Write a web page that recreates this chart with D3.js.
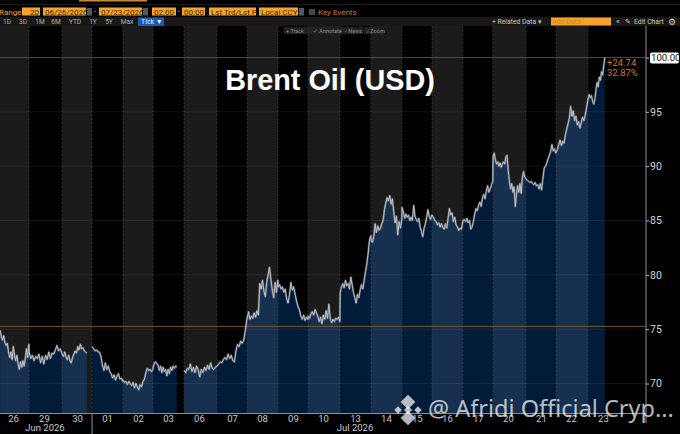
<!DOCTYPE html>
<html><head><meta charset="utf-8">
<script src="https://cdn.jsdelivr.net/npm/d3@7"></script>
<style>html,body{margin:0;padding:0;background:#000;overflow:hidden}svg{display:block}</style>
</head><body><svg id="c" width="680" height="434"></svg>
<script>
const title = "Brent Oil (USD)";
const dayLabels = ["26","29","30","01","02","03","06","07","08","09","10","13","14","15","16","17","20","21","22","23"];
const sessionHours = [22.3,25.4,23.1,23.8,23.1,23.8,25.4,23.1,23.8,23.1,24.6,23.8,23.8,23.1,23.8,23.1,25.4,23.1,24.6,13.1];
const tradedHours  = [22.3,25.4,19.2,23.8,23.1,18.4,25.4,23.1,23.8,23.1,24.6,23.8,23.8,23.1,23.8,23.1,25.4,23.1,24.6,13.1];
const d26 = [74.9,74.3,74.0,74.4,73.8,73.5,73.7,72.9,72.4,72.9,72.2,73.4,72.6,72.1,72.6,71.8,71.3,72.0,71.5,72.1,71.6,72.3,73.2,72.4,73.6];
const d29 = [72.9,72.3,72.6,72.1,72.5,72.3,72.7,71.9,72.5,71.8,72.6,72.2,72.9,72.3,72.8,72.7,73.1,73.5,73.0,73.2,72.8];
const d30 = [72.7,72.5,72.9,72.4,72.2,72.6,72.1,71.9,72.4,72.7,73.0,72.8,73.4,73.1,73.6,73.2,73.3,73.0,72.9,72.8];
const d01 = [73.4,73.2,73.0,73.1,72.9,72.9,72.5,71.7,71.2,71.9,71.3,71.6,71.1,70.9,70.5,70.8,70.3,70.7,70.9,70.4,70.5,70.2];
const d02 = [70.3,70.1,70.2,69.9,70.2,70.0,69.8,70.1,69.6,70.0,69.7,69.4,69.9,69.7,70.2,70.4,71.0,71.4,71.2,71.3,71.1,71.3];
const d03 = [71.5,71.9,72.0,71.8,71.7,71.2,71.6,71.0,71.5,71.1,71.3,70.7,71.3,70.9,71.5,71.2,71.6,71.4,71.6,71.5];
const d06 = [71.2,71.0,71.4,71.3,71.8,71.1,71.5,71.0,71.6,71.3,70.6,71.3,71.0,71.5,71.2,71.7,71.3,71.9,71.4,71.3,71.5,71.6];
const d07 = [71.6,71.8,72.0,71.9,72.2,72.4,72.2,72.7,72.3,72.6,72.1,72.0,73.0,73.6,73.4,73.9,73.7,74.0,74.9,76.0];
const d08 = [76.0,76.6,75.9,76.2,76.0,76.5,76.1,76.7,76.3,79.2,78.7,79.5,78.5,78.0,79.3,80.0,80.7,79.6,78.6,77.9,79.3,78.4,79.5];
const d09 = [78.9,79.1,78.7,78.9,78.4,78.7,77.8,77.4,78.2,79.3,78.6,78.9,78.2,77.6,77.1,76.8,76.2,75.9,76.3,75.8,76.1,75.9];
const d10 = [76.2,76.0,76.4,76.6,76.3,76.8,76.5,76.2,75.7,76.1,75.5,76.3,75.9,76.7,76.0,77.3,76.0,75.6,75.9,75.7,76.0,75.9,76.1,75.7];
const d13 = [78.3,78.9,79.2,78.8,79.5,79.0,79.2,78.7,79.8,79.1,78.4,77.9,77.4,78.2,77.9,78.6,79.1,78.7,79.5,80.3,81.0,82.0,83.2,83.6];
const d14 = [83.2,83.0,83.5,84.7,83.9,84.5,84.1,84.3,84.7,85.0,86.0,86.6,87.1,86.8,87.3,86.5,87.0,85.8,84.8,85.4,83.7,84.9,84.3,85.1];
const d15 = [86.2,85.8,85.2,85.6,85.3,85.5,85.0,85.3,85.0,86.4,85.4,85.1,84.9,85.2,84.4,84.0,83.5,84.3,84.7,85.3,86.0,85.4,85.1,85.5];
const d16 = [85.5,85.3,85.0,84.9,84.6,84.8,84.4,84.7,84.4,84.2,84.7,84.3,85.2,86.1,85.5,85.7,84.9,85.3,84.6,84.4,84.1,84.3,84.2,84.9];
const d17 = [85.0,85.1,84.9,85.2,84.8,85.0,84.2,84.4,84.9,85.6,86.1,85.9,86.4,86.7,86.3,87.1,87.4,87.0,87.7,88.2,87.6,87.9,88.3,88.6];
const d20 = [90.9,91.2,90.6,90.2,90.4,90.0,90.3,89.9,90.2,90.4,90.2,90.9,91.0,89.6,88.6,87.9,88.4,87.6,88.1,86.3,87.4,88.2,87.6,88.4,87.5,88.9,89.5,89.0,88.9];
const d21 = [88.8,88.7,88.6,88.5,88.6,88.4,88.3,88.5,88.2,88.3,87.9,88.4,87.8,88.9,89.8,90.0,90.3,90.7,91.0,91.4,92.0,91.4,91.6,91.2];
const d22 = [91.3,91.5,92.0,92.4,91.9,92.3,92.1,92.9,93.4,93.9,94.4,95.5,94.6,95.1,94.2,94.6,93.8,94.1,93.5,94.0,94.5,94.2,94.7,95.4,96.0];
const d23 = [96.2,96.6,96.3,96.5,96.0,95.7,96.1,97.0,97.7,97.3,98.2,97.9,98.7,98.4,99.3,100.0];
const sessions = [d26,d29,d30,d01,d02,d03,d06,d07,d08,d09,d10,d13,d14,d15,d16,d17,d20,d21,d22,d23];
const yTicks = [100,95,90,85,80,75,70];
const lastValue = 100.00, changeAbs = "+24.74", changePct = "32.87%", refValue = 75.26;
const periods = ["1D","3D","1M","6M","YTD","1Y","5Y","Max"];

const svg = d3.select("#c");
const F = "Roboto, 'Liberation Sans', sans-serif";
const plotTop = 26, plotBottom = 413, axisX = 646;
svg.append("rect").attr("width",680).attr("height",434).attr("fill","#000");

// time layout
let acc = 0;
const starts = sessionHours.map(h => { const s = acc; acc += h; return s; });
const total = acc;
const x = d3.scaleLinear().domain([0,total]).range([0,605]);
const y = d3.scaleLinear().domain([70,100]).range([383.5,57.5]);
const pts = [], groups = [[]];
sessions.forEach((vals,d) => {
  const t = d3.scaleLinear().domain([0,vals.length-1]).range([starts[d]+0.1,starts[d]+tradedHours[d]-0.1]);
  vals.forEach((v,i)=>{ const p={h:t(i),v}; groups[groups.length-1].push(p); pts.push(p); });
  if (tradedHours[d] < sessionHours[d]-1) groups.push([]);
});

// bands
const bandEnd = d => d===sessions.length-1 ? x(total) : x(starts[d+1]);
svg.append("g").selectAll("rect").data(sessions).join("rect")
  .attr("x",(d,i)=>x(starts[i])).attr("width",(d,i)=>bandEnd(i)-x(starts[i]))
  .attr("y",plotTop).attr("height",plotBottom-plotTop)
  .attr("fill",(d,i)=>i%2===0?"#1b1b1b":"#000");

// area clipped bands
const area = d3.area().x(d=>x(d.h)).y0(plotBottom).y1(d=>y(d.v));
const line = d3.line().x(d=>x(d.h)).y(d=>y(d.v));
const defs = svg.append("defs");
defs.append("clipPath").attr("id","ac").selectAll("path").data(groups).join("path").attr("d",area);
svg.append("g").attr("clip-path","url(#ac)").selectAll("rect").data(sessions).join("rect")
  .attr("x",(d,i)=>x(starts[i])).attr("width",(d,i)=>bandEnd(i)-x(starts[i]))
  .attr("y",plotTop).attr("height",plotBottom-plotTop)
  .attr("fill",(d,i)=>i%2===0?"#17304f":"#021b38");

// dashed session separators
svg.append("g").selectAll("line").data(starts.slice(1)).join("line")
  .attr("x1",d=>x(d)).attr("x2",d=>x(d)).attr("y1",plotTop).attr("y2",plotBottom)
  .attr("stroke","#3a3f46").attr("stroke-width",1).attr("stroke-dasharray","2,2").attr("opacity",.7);

// grid
svg.append("g").selectAll("line").data(yTicks.slice(1)).join("line")
  .attr("x1",0).attr("x2",axisX).attr("y1",d=>y(d)).attr("y2",d=>y(d))
  .attr("stroke","#ffffff").attr("stroke-opacity",.07).attr("stroke-width",1);
svg.append("line").attr("x1",0).attr("x2",axisX).attr("y1",y(lastValue)).attr("y2",y(lastValue))
  .attr("stroke","#4d473c").attr("stroke-width",1);
svg.append("line").attr("x1",0).attr("x2",axisX).attr("y1",y(refValue)).attr("y2",y(refValue))
  .attr("stroke","#7d5524").attr("stroke-width",1);

// price line: soft halo plus core
svg.append("g").selectAll("path").data(groups).join("path")
  .attr("d",line).attr("fill","none").attr("stroke","#aeb6bf").attr("stroke-opacity",.4).attr("stroke-width",2.2).attr("stroke-linejoin","round");
svg.append("g").selectAll("path").data(groups).join("path")
  .attr("d",line).attr("fill","none").attr("stroke","#c8ccd0").attr("stroke-width",.9).attr("stroke-linejoin","round");

// right axis
const ax = d3.axisRight(y).tickValues(yTicks).tickSize(3).tickPadding(1)
  .tickFormat(d=>d===lastValue?d3.format(".2f")(d):d3.format("d")(d));
const ag = svg.append("g").attr("transform",`translate(${axisX},0)`).call(ax);
ag.select(".domain").remove();
ag.selectAll("line").attr("stroke","#bbb");
ag.selectAll("text").attr("fill","#d4d4d4").attr("font-family",F).attr("font-size",10.5);
ag.append("line").attr("x1",0).attr("x2",0).attr("y1",plotTop).attr("y2",423).attr("stroke","#8f8f8f");
const tg = ag.selectAll(".tick").filter(d=>d===lastValue);
tg.insert("rect","text").attr("x",4).attr("y",-5.5).attr("width",29).attr("height",11).attr("rx",2).attr("fill","#fff");
tg.select("text").attr("fill","#111").attr("x",5).attr("font-size",9.6);

// bottom axis
svg.append("line").attr("x1",0).attr("x2",axisX).attr("y1",plotBottom+.5).attr("y2",plotBottom+.5).attr("stroke","#8f8f8f");
svg.append("line").attr("x1",x(starts[3])).attr("x2",x(starts[3])).attr("y1",plotBottom).attr("y2",434).attr("stroke","#8f8f8f");
svg.append("g").selectAll("text").data(dayLabels).join("text")
  .attr("x",(d,i)=>x(i===0?starts[1]-11.9:starts[i]+11.9)).attr("y",422)
  .attr("text-anchor","middle").attr("fill","#c9c9c9").attr("font-family",F).attr("font-size",9.5).text(d=>d);
[["Jun 2026",45],["Jul 2026",355]].forEach(([t,p])=>svg.append("text").attr("x",p).attr("y",431)
  .attr("text-anchor","middle").attr("fill","#c9c9c9").attr("font-family",F).attr("font-size",9.5).text(t));

// change labels
[[changeAbs,66],[changePct,76]].forEach(([t,py])=>svg.append("text").attr("x",607).attr("y",py)
  .attr("fill","#c67a22").attr("font-family",F).attr("font-size",9.5).text(t));

// title
svg.append("text").attr("x",330).attr("y",90).attr("text-anchor","middle").attr("fill","#fff")
  .attr("font-family","'Liberation Sans', Arial, sans-serif").attr("font-weight",700).attr("font-size",28.8).text(title);

// header
const H = svg.append("g").attr("font-family",F);
H.append("rect").attr("width",680).attr("height",plotTop).attr("fill","#000");
H.append("rect").attr("x",0).attr("y",17).attr("width",680).attr("height",9).attr("fill","#191816");
H.append("rect").attr("x",79).attr("y",0).attr("width",68).attr("height",1.5).attr("fill","#c98a2e");
H.append("line").attr("x1",0).attr("x2",680).attr("y1",4.5).attr("y2",4.5).attr("stroke","#1c1c1c");
H.append("text").attr("x",-1).attr("y",14.5).attr("fill","#f5a623").attr("font-size",8).text("Range");
const fields=[[22,40,"20","end"],[43,86,"06/26/2026"],[99,142,"07/23/2026"],[152,176,"02:00"],[182,205,"00:00"],[209,256,"Lst Trd/Lst P"],[259,298,"Local CCY"]];
fields.forEach(f=>{
  H.append("rect").attr("x",f[0]).attr("y",7.5).attr("width",f[1]-f[0]).attr("height",8).attr("fill","#f7a32b");
  H.append("text").attr("x",f[3]?f[1]-1:f[0]+2).attr("y",14.5).attr("text-anchor",f[3]?"end":"start").attr("fill","#3a2a10").attr("font-size",8).text(f[2]);
});
[87,143,299].forEach(p=>H.append("rect").attr("x",p).attr("y",8).attr("width",5).attr("height",7.5).attr("fill","#55585c"));
[[93.5],[177.5]].forEach(p=>H.append("text").attr("x",p[0]).attr("y",14).attr("fill","#bbb").attr("font-size",8).text("-"));
H.append("rect").attr("x",309).attr("y",9).attr("width",6).attr("height",6).attr("fill","#44474a");
H.append("text").attr("x",318).attr("y",14.5).attr("fill","#c27f22").attr("font-size",8).text("Key Events");
[7,23,40,56,75,93,109,127].forEach((p,i)=>H.append("text").attr("x",p).attr("y",24).attr("text-anchor","middle").attr("fill","#b5b5b5").attr("font-size",6.5).text(periods[i]));
H.append("rect").attr("x",138).attr("y",17.5).attr("width",26).attr("height",8.5).attr("fill","#1a5bb5");
H.append("text").attr("x",141).attr("y",24).attr("fill","#e8eefc").attr("font-size",7).text("Tick ▼");
H.append("text").attr("x",492).attr("y",24).attr("fill","#c8c8c8").attr("font-size",6.8).text("+ Related Data ▾");
H.append("rect").attr("x",551).attr("y",17.5).attr("width",60).attr("height",8).attr("fill","#f7a32b");
H.append("text").attr("x",552).attr("y",24).attr("fill","#c8872a").attr("font-size",7).text("Add Data");
H.append("text").attr("x",616).attr("y",24).attr("fill","#ccc").attr("font-size",8).text("«");
H.append("text").attr("x",625).attr("y",24).attr("fill","#ddd").attr("font-size",7).text("✎");
H.append("text").attr("x",634).attr("y",24).attr("fill","#c8c8c8").attr("font-size",6.8).text("Edit Chart");
H.append("text").attr("x",668).attr("y",25).attr("fill","#ccc").attr("font-size",9).text("⚙");
[[284,"+  Track",30],[311,"✓ Annotate",33],[343,"▫ News",20],[364,"⌕ Zoom",20]].forEach(([p,t,w])=>{
  H.append("rect").attr("x",p).attr("y",27).attr("width",w).attr("height",7).attr("fill","#222");
  H.append("text").attr("x",p+2).attr("y",32.5).attr("fill","#8f8f8f").attr("font-size",5.5).text(t);
});

// watermark
const W = svg.append("g").attr("fill","#ffffff").attr("fill-opacity",.72);
[[408,402,5.2],[408,418,5.2],[398,410,2.6],[418,410,2.6],[408,410,2.9]].forEach(([cx,cy,r])=>
  W.append("rect").attr("x",cx-r).attr("y",cy-r).attr("width",2*r).attr("height",2*r).attr("transform",`rotate(45 ${cx} ${cy})`));
W.append("text").attr("x",428).attr("y",417).attr("font-family","'Noto Sans', sans-serif").attr("font-size",23.5).text("@ Afridi Official Cryp...");
</script></body></html>
